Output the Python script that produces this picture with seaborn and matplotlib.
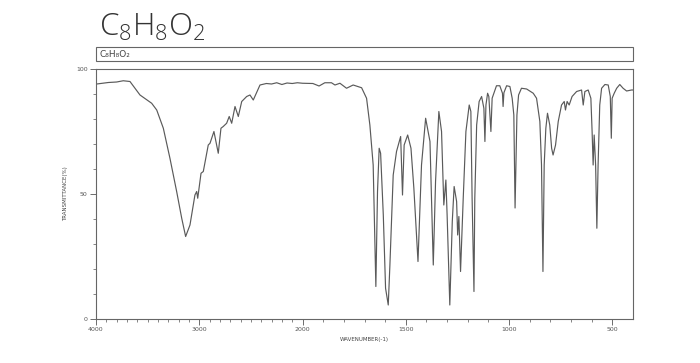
import numpy as np
import pandas as pd
import matplotlib
matplotlib.use("Agg")
import matplotlib.pyplot as plt
import matplotlib.ticker as mticker
from matplotlib.patches import Rectangle
import seaborn as sns

# ---- data ----
wavenumber = [4000, 3993, 3880, 3800, 3736, 3671, 3574, 3461, 3412, 3348, 3284, 3219, 3170,
              3132, 3090, 3042, 3025, 3015, 2983, 2961, 2913, 2896, 2858, 2816, 2790,
              2768, 2735, 2710, 2686, 2654, 2622, 2589, 2541, 2509, 2477, 2412, 2350,
              2300, 2250, 2200, 2150, 2100, 2050, 2000, 1950, 1920, 1892, 1860, 1843,
              1819, 1787, 1755, 1714, 1690, 1674, 1658, 1645, 1637, 1629, 1622, 1609,
              1598, 1585, 1577, 1561, 1545, 1525, 1516, 1508, 1491, 1475, 1461, 1441,
              1424, 1404, 1383, 1367, 1356, 1340, 1327, 1316, 1306, 1300, 1287, 1275,
              1266, 1254, 1249, 1243, 1235, 1222, 1209, 1193, 1185, 1179, 1170, 1166,
              1157, 1145, 1133, 1122, 1117, 1112, 1104, 1098, 1088, 1082, 1061, 1045,
              1032, 1029, 1025, 1012, 996, 985, 977, 971, 962, 954, 940, 915, 883, 867,
              851, 843, 836, 830, 822, 814, 803, 794, 787, 775, 762, 746, 733, 727, 719,
              709, 695, 673, 649, 641, 633, 617, 604, 598, 593, 588, 581, 575, 569, 561,
              552, 536, 520, 510, 505, 501, 491, 479, 464, 448, 431, 407, 400]
transmittance = [94.0, 94.0, 94.6, 94.8, 95.3, 95.0, 89.6, 86.3, 83.6, 76.3, 64.3, 51.0, 40.3,
                 33.0, 37.6, 49.6, 51.0, 48.3, 58.3, 59.0, 69.6, 70.3, 75.0, 66.3, 76.3,
                 77.0, 78.3, 81.0, 78.3, 85.0, 81.0, 87.0, 89.0, 89.6, 87.6, 93.6, 94.2,
                 94.0, 94.5, 93.8, 94.4, 94.2, 94.5, 94.3, 94.2, 93.2, 94.5, 94.5, 93.6,
                 94.3, 92.3, 93.6, 92.5, 88.3, 77.6, 61.6, 13.0, 51.0, 68.3, 66.3, 41.6,
                 12.3, 5.6, 21.6, 57.6, 67.0, 73.0, 49.6, 69.6, 73.6, 68.3, 52.3, 23.0,
                 61.6, 80.3, 71.0, 21.6, 55.0, 83.0, 75.0, 45.6, 55.6, 41.6, 5.6, 39.0,
                 53.0, 47.0, 33.6, 41.0, 19.0, 48.3, 75.0, 85.6, 83.0, 48.3, 11.0, 48.3,
                 77.6, 87.0, 89.0, 84.3, 71.0, 85.6, 90.3, 89.0, 75.0, 88.3, 93.3, 93.3,
                 90.3, 85.0, 90.5, 93.3, 93.0, 88.3, 81.6, 44.4, 81.6, 89.6, 92.3, 92.0, 90.3, 88.3,
                 79.0, 61.6, 19.0, 61.6, 76.3, 82.3, 77.6, 68.3, 65.6, 69.6, 79.0, 85.6, 87.0, 83.6, 87.0,
                 85.6, 89.0, 91.0, 91.6, 85.6, 91.0, 91.6, 88.3, 75.0, 61.6, 73.6, 61.6, 36.3, 61.6, 85.6,
                 92.3, 93.8, 93.6, 89.0, 72.3, 88.3, 90.3, 92.3, 93.8, 92.3, 91.2, 91.6, 91.6]

x_tick_labels = ["4000", "3000", "2000", "1500", "1000", "500"]
y_tick_labels = ["0", "50", "100"]
formula_title = r"$\mathregular{C_8H_8O_2}$"
formula_box = "C₈H₈O₂"
x_label = "WAVENUMBER(-1)"
y_label = "TRANSMITTANCE(%)"

df = pd.DataFrame({"wavenumber": wavenumber, "transmittance": transmittance})

sns.set_theme(style="ticks")
plt.rcParams["font.family"] = ["DejaVu Sans"]

fig = plt.figure(figsize=(7, 3.63), dpi=100)
W, H = 700, 363
ax = fig.add_axes([96 / W, 1 - 319 / H, (633 - 96) / W, (319 - 69) / H])


# split wavenumber scale: 4000-2000 compressed, 2000-400 expanded x2
def fwd(w):
    w = np.asarray(w, dtype=float)
    return np.where(w >= 2000, w / 1000.0, (w - 1000.0) / 500.0)


def inv(u):
    u = np.asarray(u, dtype=float)
    return np.where(u >= 2, u * 1000.0, u * 500.0 + 1000.0)


ax.set_xscale("function", functions=(fwd, inv))

sns.lineplot(data=df, x="wavenumber", y="transmittance", ax=ax, color="#5a5a5a",
             linewidth=0.85, sort=False, estimator=None)

ax.set_xlim(4000, 400)
ax.set_ylim(0, 100)

ax.xaxis.set_major_locator(mticker.FixedLocator([int(v) for v in x_tick_labels]))
ax.xaxis.set_major_formatter(mticker.FixedFormatter(x_tick_labels))
ax.xaxis.set_minor_locator(mticker.FixedLocator(list(range(3900, 400, -100))))
ax.yaxis.set_major_locator(mticker.FixedLocator([int(v) for v in y_tick_labels]))
ax.yaxis.set_major_formatter(mticker.FixedFormatter(y_tick_labels))
ax.yaxis.set_minor_locator(mticker.MultipleLocator(10))

ax.tick_params(axis="both", which="major", labelsize=4.5, length=4, width=0.6,
               colors="#555555", pad=2, direction="out")
ax.tick_params(axis="both", which="minor", length=2, width=0.5, color="#555555",
               direction="out")
for s in ax.spines.values():
    s.set_color("#666666")
    s.set_linewidth(0.8)

ax.set_xlabel(x_label, fontsize=4, color="#444444", labelpad=3)
ax.set_ylabel(y_label, fontsize=4, color="#444444", labelpad=6)

# header box with formula
fig.patches.append(Rectangle((96 / W, 1 - 61 / H), (633 - 96) / W, 14 / H,
                             transform=fig.transFigure, fill=False,
                             edgecolor="#666666", linewidth=0.8))
fig.text(100 / W, 1 - 54.5 / H, formula_box, fontsize=6.5, color="#444444",
         va="center", ha="left", family="DejaVu Sans")

# big title
fig.text(99 / W, 1 - 36 / H, formula_title, fontsize=22.5, color="#333333",
         ha="left", va="baseline", family="Open Sans", fontweight="light")

fig.savefig("out.png", dpi=100, facecolor="white")
